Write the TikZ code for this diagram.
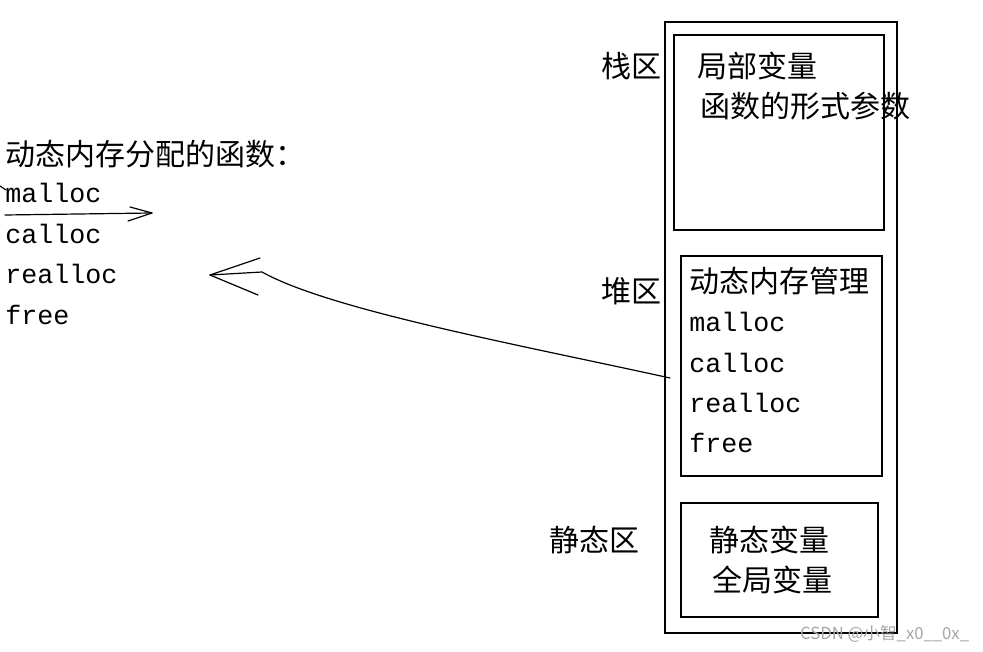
\documentclass[tikz,border=0pt]{standalone}
\usepackage{fontspec}
\setmainfont{Liberation Mono}
\newfontfamily\cjk{Noto Sans CJK SC}
\begin{document}
\begin{tikzpicture}[x=0.75pt,y=-0.75pt,
  box/.style={draw,line width=1.6pt},
  txt/.style={anchor=west,inner sep=0pt,font=\fontsize{20}{22}\selectfont},
  zh/.style={anchor=west,inner sep=0pt,font=\cjk\fontsize{22.5}{24}\selectfont},
  hand/.style={line width=0.9pt,line cap=round,line join=round}]
\useasboundingbox (0,0) rectangle (983,652);
\fill[white] (0,0) rectangle (983,652);
\draw[box] (665,22) rectangle (897,633);
\draw[box] (674,35) rectangle (884,230);
\draw[box] (681,256) rectangle (882,476);
\draw[box] (681,503) rectangle (878,617);
\node[zh] (l1) at (601,66) {栈区};
\node[zh] (l2) at (601,291) {堆区};
\node[zh] (l3) at (549,540) {静态区};
\node[zh] (s1) at (697,66) {局部变量};
\node[zh] (s2) at (700,106) {函数的形式参数};
\node[zh] (h0) at (689,281) {动态内存管理};
\node[txt] (h1) at (689,322) {malloc};
\node[txt] (h2) at (689,363) {calloc};
\node[txt] (h3) at (689,403) {realloc};
\node[txt] (h4) at (689,443) {free};
\node[zh] (j1) at (709,540) {静态变量};
\node[zh] (j2) at (712,580) {全局变量};
\node[zh] (f0) at (5,154) {动态内存分配的函数：};
\node[txt] (f1) at (5,193) {malloc};
\node[txt] (f2) at (5,234) {calloc};
\node[txt] (f3) at (5,274) {realloc};
\node[txt] (f4) at (5,315) {free};
\coordinate (a0) at (670,378);
\coordinate (a1) at (210,275);
\draw[hand] (a0) .. controls (520,345) and (330,310) .. (262,272) -- (a1);
\draw[hand] (260,258) -- (a1) -- (258,295);
\coordinate (b0) at (5,215);
\coordinate (b1) at (152,213);
\draw[hand] (b0) -- (b1);
\draw[hand] (130,207) -- (b1) -- (128,221);
\draw[hand] (0,186) -- (6,190);
\node[anchor=south east,inner sep=2pt,text=gray!70,font=\cjk\fontsize{12.5}{14}\selectfont] (wm) at (972,645) {CSDN @小智\_x0\_\_0x\_};
\end{tikzpicture}
\end{document}
